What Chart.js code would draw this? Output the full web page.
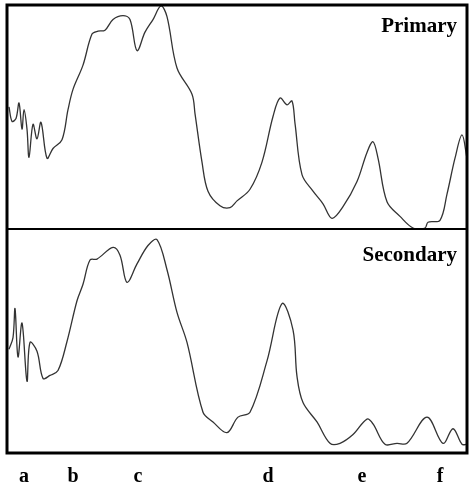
<!DOCTYPE html>
<html>
<head>
<meta charset="utf-8">
<script src="https://cdn.jsdelivr.net/npm/chart.js@4"></script>
<style>
  html, body { margin: 0; padding: 0; background: #fff; }
  #wrap { width: 474px; height: 502px; }
</style>
</head>
<body>
<div id="wrap"><canvas id="chart" width="474" height="502"></canvas></div>
<script>
// positions along the trace and intensities
const primaryX = [9,12,16,19,22,24,27,29,33,37,41,47,53,62,68,73,83,92,98,105,113,123,130,137,145,153,161,167,177,192,195,202,208,220,230,237,250,262,273,280,287,292,295,302,313,323,332,343,357,367,373,378,387,400,413,425,428,440,447,455,462,467];
const primaryY = [126,111,114,130,103,123,103,74,108,93,110,73,83,92,123,144,169,201,204,205,216,220,216,184,203,216,230,219,166,139,119,69,39,24,22,29,41,69,116,135,128,132,109,56,39,26,11,23,49,79,90,73,28,13,1,1,7,9,36,73,97,73];
const secondaryX = [9,13,15,18,22,27,30,37,43,50,58,67,77,83,90,97,113,120,127,137,148,157,167,177,187,203,213,227,238,250,267,282,293,297,303,317,330,340,353,367,373,385,397,407,427,443,453,462,467];
const secondaryY = [107,119,149,99,134,74,114,105,77,80,85,115,157,174,199,200,212,204,176,195,214,220,189,145,114,42,32,21,37,42,95,154,127,79,52,32,10,10,19,35,30,9,10,10,37,10,25,9,9];
const letters = ['a','b','c','d','e','f'];
const letterPos = [24,73,138,268,362,440];
const panelTitles = ['Primary','Secondary'];

const panelHeight = 231;

const frame = {
  id: 'frame',
  afterDraw(chart) {
    const { ctx, chartArea: a, scales } = chart;
    ctx.save();
    ctx.strokeStyle = '#000';
    ctx.lineWidth = 3;
    ctx.strokeRect(a.left, a.top, a.right - a.left, a.bottom - a.top);
    const mid = scales.y.getPixelForValue(panelHeight);
    ctx.lineWidth = 2;
    ctx.beginPath();
    ctx.moveTo(a.left, mid);
    ctx.lineTo(a.right, mid);
    ctx.stroke();
    ctx.fillStyle = '#000';
    ctx.font = 'bold 21px "Liberation Serif", serif';
    ctx.textAlign = 'right';
    ctx.textBaseline = 'middle';
    ctx.fillText(panelTitles[0], a.right - 10, a.top + 22);
    ctx.fillText(panelTitles[1], a.right - 10, mid + 27);
    ctx.restore();
  }
};

new Chart(document.getElementById('chart'), {
  type: 'line',
  data: {
    datasets: [
      {
        data: primaryX.map((x, i) => ({ x: x, y: panelHeight + primaryY[i] })),
        borderColor: '#333', borderWidth: 1.3, pointRadius: 0, tension: 0.35
      },
      {
        data: secondaryX.map((x, i) => ({ x: x, y: secondaryY[i] })),
        borderColor: '#333', borderWidth: 1.3, pointRadius: 0, tension: 0.35
      }
    ]
  },
  options: {
    responsive: false,
    animation: false,
    layout: { padding: { left: 7, right: 7, top: 5, bottom: 1 } },
    plugins: { legend: { display: false }, tooltip: { enabled: false } },
    scales: {
      x: {
        type: 'linear', min: 7, max: 467,
        grid: { display: false, drawTicks: false },
        border: { display: false },
        afterBuildTicks: (axis) => { axis.ticks = letterPos.map(v => ({ value: v })); },
        ticks: {
          autoSkip: false, maxRotation: 0, padding: 14, color: '#000',
          font: { family: '"Liberation Serif", serif', size: 20, weight: 'bold', lineHeight: 1.0 },
          callback: (v) => letters[letterPos.indexOf(v)]
        }
      },
      y: { display: false, min: 0, max: panelHeight * 2 }
    }
  },
  plugins: [frame]
});
</script>
</body>
</html>
